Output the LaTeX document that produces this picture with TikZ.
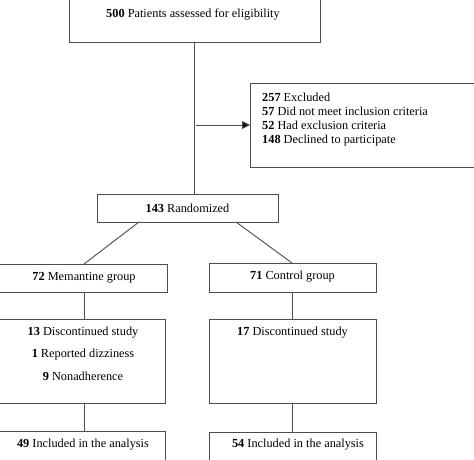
\documentclass[tikz,border=0pt]{standalone}
\usepackage{fontspec}
\setmainfont{Liberation Serif}
\usetikzlibrary{arrows.meta}
\begin{document}
\begin{tikzpicture}[x=1pt,y=-1pt,
  box/.style={draw=black!70, line width=0.9pt, rectangle, inner sep=0pt},
  txt/.style={font=\fontsize{12.3}{14}\selectfont, inner sep=0pt},
  link/.style={draw=black!70, line width=0.9pt},
  arr/.style={link, -{Triangle[length=8pt,width=8pt,fill=black]}}]
\useasboundingbox (0,0) rectangle (474,460);
% boxes
\node[box, minimum width=251, minimum height=62] (top) at (194.5,11) {};
\node[txt] (toptext) at (193,14) {\textbf{500} Patients assessed for eligibility};
\node[box, minimum width=240, minimum height=84, anchor=north west] (exc) at (250,83) {};
\node[txt, align=left, anchor=north west] (exctext) at (262,92.5)
  {\textbf{257} Excluded\\ \textbf{57} Did not meet inclusion criteria\\ \textbf{52} Had exclusion criteria\\ \textbf{148} Declined to participate};
\node[box, minimum width=181, minimum height=28, anchor=north west] (rand) at (97,194) {};
\node[txt] (randtext) at (187.5,208) {\textbf{143} Randomized};
\node[box, minimum width=172, minimum height=28, anchor=north east] (mem) at (168,264) {};
\node[txt] (memtext) at (84,278) {\textbf{72} Memantine group};
\node[box, minimum width=167, minimum height=29, anchor=north west] (con) at (209,263) {};
\node[txt] (context) at (292.5,277) {\textbf{71} Control group};
\node[box, minimum width=170, minimum height=84, anchor=north east] (mdis) at (166,319) {};
\node[txt] (mdis1) at (83,333) {\textbf{13} Discontinued study};
\node[txt] (mdis2) at (83,354.5) {\textbf{1} Reported dizziness};
\node[txt] (mdis3) at (83,376) {\textbf{9} Nonadherence};
\node[box, minimum width=167, minimum height=84, anchor=north west] (cdis) at (209,319) {};
\node[txt] (cdis1) at (292.5,333) {\textbf{17} Discontinued study};
\node[box, minimum width=170, minimum height=40, anchor=north east] (minc) at (166,431) {};
\node[txt] (minctext) at (83,444.5) {\textbf{49} Included in the analysis};
\node[box, minimum width=167, minimum height=40, anchor=north west] (cinc) at (209,432) {};
\node[txt] (cinctext) at (298,445) {\textbf{54} Included in the analysis};
% connectors
\draw[link] (top.south -| 194,0) -- (rand.north -| 194,0);
\coordinate (astart) at (196,125);
\draw[arr] (astart) -- (exc.west |- astart);
\draw[link] (139,222) -- (84,264);
\draw[link] (236,222) -- (292,263);
\draw[link] (mem.south -| 84,0) -- (mdis.north -| 84,0);
\draw[link] (con.south -| 292,0) -- (cdis.north -| 292,0);
\draw[link] (mdis.south -| 84,0) -- (minc.north -| 84,0);
\draw[link] (cdis.south -| 292,0) -- (cinc.north -| 292,0);
\end{tikzpicture}
\end{document}
